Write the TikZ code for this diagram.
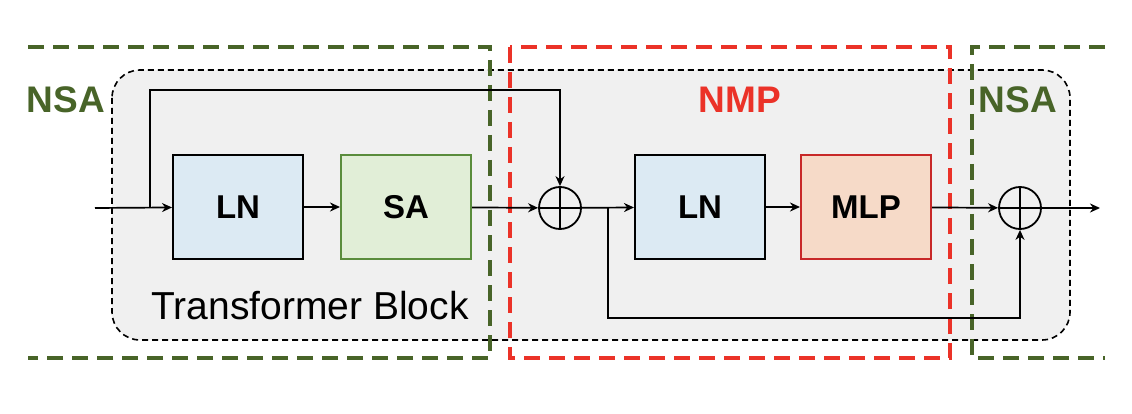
\documentclass[tikz,border=0pt]{standalone}
\usepackage{fontspec}
\setmainfont{Liberation Sans}
\usetikzlibrary{arrows.meta}
\begin{document}
\begin{tikzpicture}[x=1pt,y=-1pt,
  blk/.style={draw,line width=2pt,minimum width=130pt,minimum height=104pt,font=\fontsize{33}{38}\selectfont\bfseries},
  op/.style={draw,circle,line width=1.8pt,minimum size=42pt,inner sep=0pt},
  arr/.style={line width=1.7pt,-{Stealth[length=10pt,width=9pt]}},
  gdash/.style={draw={rgb,255:red,72;green,100;blue,40},line width=3.5pt,dash pattern=on 16pt off 9pt},
  rdash/.style={draw={rgb,255:red,235;green,50;blue,40},line width=3.5pt,dash pattern=on 16pt off 9pt}]
\useasboundingbox (0,0) rectangle (1132,414);
\draw[fill=black!6,line width=1.6pt,dash pattern=on 6pt off 4pt,rounded corners=28pt] (112,70) rectangle (1070,340);
\draw[gdash] (28,47) -- (490,47) -- (490,358) -- (28,358);
\draw[rdash] (510,47) rectangle (950,358);
\draw[gdash] (1105,47) -- (972,47) -- (972,358) -- (1105,358);
\node[text={rgb,255:red,72;green,100;blue,40},font=\fontsize{37}{42}\selectfont\bfseries] (nsa1) at (66,100) {NSA};
\node[text={rgb,255:red,235;green,50;blue,40},font=\fontsize{37}{42}\selectfont\bfseries] (nmp) at (740,100) {NMP};
\node[text={rgb,255:red,72;green,100;blue,40},font=\fontsize{37}{42}\selectfont\bfseries] (nsa2) at (1018,100) {NSA};
\node[font=\fontsize{39}{44}\selectfont] (tb) at (310,306) {Transformer Block};
\node[blk,fill={rgb,255:red,220;green,234;blue,243}] (ln1) at (238,207) {LN};
\node[blk,draw={rgb,255:red,90;green,140;blue,60},fill={rgb,255:red,225;green,238;blue,215}] (sa) at (406,207) {SA};
\node[op] (p1) at (560,208) {};
\draw[line width=1.8pt] (p1.north)--(p1.south) (p1.west)--(p1.east);
\node[blk,fill={rgb,255:red,220;green,234;blue,243}] (ln2) at (700,207) {LN};
\node[blk,draw={rgb,255:red,200;green,40;blue,40},fill={rgb,255:red,246;green,218;blue,200}] (mlp) at (866,207) {MLP};
\node[op] (p2) at (1020,208) {};
\draw[line width=1.8pt] (p2.north)--(p2.south) (p2.west)--(p2.east);
\coordinate (in) at (95,208);
\coordinate (out) at (1100,208);
\coordinate (s1) at (150,208);
\coordinate (s2) at (608,208);
\draw[arr] (in) -- (ln1);
\draw[arr] (ln1) -- (sa);
\draw[arr] (sa) -- (p1);
\draw[arr] (p1) -- (ln2);
\draw[arr] (ln2) -- (mlp);
\draw[arr] (mlp) -- (p2);
\draw[arr] (p2) -- (out);
\draw[arr] (s1) -- (150,90) -- (560,90) -- (p1.north);
\draw[arr] (s2) -- (608,318) -- (1020,318) -- (p2.south);
\end{tikzpicture}
\end{document}
